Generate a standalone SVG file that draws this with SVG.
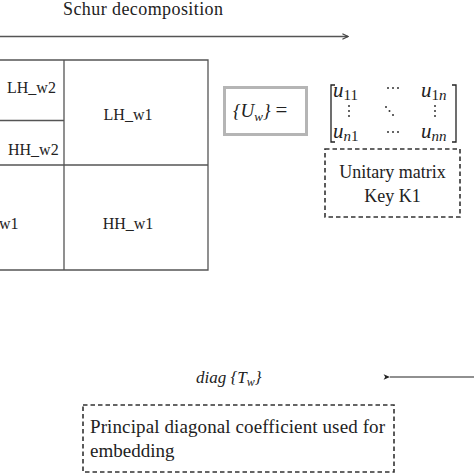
<svg xmlns="http://www.w3.org/2000/svg" width="474" height="474" viewBox="0 0 474 474">
<style>
.t{font-family:"Liberation Serif","Times New Roman",serif;fill:#222;}
.ln{stroke:#555;stroke-width:1.3;fill:none;}
.dash{stroke:#333;stroke-width:1.6;fill:none;stroke-dasharray:4.5,3;}
.m{font-family:"Liberation Serif",serif;font-style:italic;fill:#222;}
</style>
<defs>
<marker id="ah" viewBox="0 0 10 10" refX="9" refY="5" markerWidth="7" markerHeight="7" orient="auto-start-reverse" markerUnits="userSpaceOnUse">
<path d="M1,1 L9,5 L1,9" fill="none" stroke="#444" stroke-width="1.6"/>
</marker>
<marker id="ah2" viewBox="0 0 10 10" refX="1" refY="5" markerWidth="8" markerHeight="8" orient="auto" markerUnits="userSpaceOnUse">
<path d="M1,5 L9,1.5 L7,5 L9,8.5 Z" fill="#222"/>
</marker>
</defs>
<rect width="474" height="474" fill="#fff"/>

<g id="connectors">
<line x1="0" y1="36.5" x2="348" y2="36.5" stroke="#555" stroke-width="1.6" marker-end="url(#ah)"/>
<line x1="474" y1="377" x2="390" y2="377" stroke="#222" stroke-width="1.2" marker-end="url(#ah2)"/>
</g>

<g id="schur-label">
<text class="t" x="143" y="15" font-size="18" text-anchor="middle" textLength="160">Schur decomposition</text>
</g>

<g id="grid">
<path class="ln" d="M0,60 H208 V270 H0 M64,60 V270 M0,165 H208 M0,120.5 H64"/>
</g>
<g id="LH_w2"><text class="t" x="7" y="93" font-size="16">LH_w2</text></g>
<g id="HH_w2"><text class="t" x="8" y="155" font-size="16">HH_w2</text></g>
<g id="LH_w1"><text class="t" x="128" y="120" font-size="16" text-anchor="middle">LH_w1</text></g>
<g id="HH_w1"><text class="t" x="128" y="229" font-size="16" text-anchor="middle">HH_w1</text></g>
<g id="LL_w1"><text class="t" x="-1" y="229" font-size="16">w1</text></g>

<g id="Uw">
<rect x="224.5" y="87.5" width="82" height="47" fill="#fff" stroke="#b5b5b5" stroke-width="3"/>
<text class="m" x="233" y="117" font-size="19">{<tspan>U</tspan><tspan font-size="13" dy="4">w</tspan><tspan dy="-4">} </tspan><tspan font-style="normal" font-size="21">=</tspan></text>
</g>

<g id="matrix">
<path d="M335,85 H331 V142 H335 M452,85 H456 V142 H452" fill="none" stroke="#222" stroke-width="1.3"/>
<text class="m" font-size="21" x="333" y="97">u<tspan font-size="15" dy="3" font-style="normal">11</tspan></text>
<text class="m" font-size="21" x="421" y="97">u<tspan font-size="15" dy="3" font-style="normal">1</tspan><tspan font-size="15">n</tspan></text>
<text class="m" font-size="21" x="333" y="138">u<tspan font-size="15" dy="3">n</tspan><tspan font-size="15" font-style="normal">1</tspan></text>
<text class="m" font-size="21" x="421" y="138">u<tspan font-size="15" dy="3">nn</tspan></text>
<g fill="#333">
<circle cx="388" cy="88" r="1"/><circle cx="393" cy="88" r="1"/><circle cx="398" cy="88" r="1"/>
<circle cx="388" cy="132" r="1"/><circle cx="393" cy="132" r="1"/><circle cx="398" cy="132" r="1"/>
<circle cx="349" cy="106" r="1"/><circle cx="349" cy="111" r="1"/><circle cx="349" cy="116" r="1"/>
<circle cx="435" cy="106" r="1"/><circle cx="435" cy="111" r="1"/><circle cx="435" cy="116" r="1"/>
<circle cx="386" cy="107" r="1"/><circle cx="389.5" cy="111" r="1"/><circle cx="393" cy="115" r="1"/>
</g>
</g>

<g id="key">
<rect class="dash" x="325" y="149" width="135" height="68"/>
<text class="t" x="392.5" y="178" font-size="18" text-anchor="middle">Unitary matrix</text>
<text class="t" x="392.5" y="202" font-size="18" text-anchor="middle">Key K1</text>
</g>

<g id="diag">
<text class="m" x="196" y="383" font-size="17">diag {T<tspan font-size="12" dy="3">w</tspan><tspan dy="-3">}</tspan></text>
</g>

<g id="embedding">
<rect class="dash" x="83" y="405" width="311" height="67"/>
<text class="t" x="90" y="433" font-size="19" textLength="295">Principal diagonal coefficient used for</text>
<text class="t" x="90" y="457" font-size="19">embedding</text>
</g>
</svg>
